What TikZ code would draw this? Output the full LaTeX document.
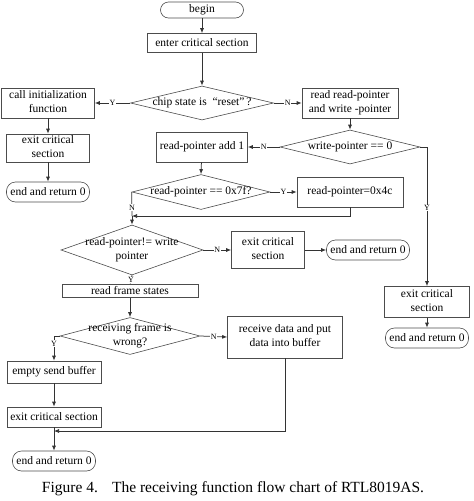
\documentclass[tikz,border=0pt]{standalone}
\usepackage{fontspec}
\setmainfont{Liberation Serif}
\usetikzlibrary{shapes.geometric,arrows.meta}
\newcommand{\twol}[2]{\begin{tabular}{@{}c@{}}#1\\#2\end{tabular}}
\begin{document}
\begin{tikzpicture}[x=1pt,y=-1pt,
  txt/.style={inner sep=0pt, font=\fontsize{11.5}{14}\selectfont},
  box/.style={txt, draw=black!70, line width=0.6pt, minimum width=#1},
  term/.style={txt, draw=black!70, line width=0.6pt, rounded corners=9pt, minimum width=83pt, minimum height=20pt},
  dia/.style={draw=black!70, line width=0.6pt, shape=diamond, inner sep=0pt},
  lab/.style={fill=white, inner sep=0.6pt, font=\fontsize{8}{9}\selectfont},
  flow/.style={draw=black!80, line width=0.75pt, -{Latex[length=5pt,width=4pt]}},
  plain/.style={draw=black!80, line width=0.75pt}]
\useasboundingbox (0,0) rectangle (474,501);

% nodes
\node[term, minimum height=16pt, rounded corners=8pt] (begin) at (202,10) {begin};
\node[box=109pt, minimum height=19pt] (enter) at (202,43) {enter critical section};
\node[dia, minimum width=143pt, minimum height=34pt] (d1) at (202,103) {};
\node[txt] (d1t) at (d1.center) {chip state is \ “reset”\,?};
\node[box=93pt, minimum height=30pt] (init) at (48,103) {\twol{call initialization}{function}};
\node[box=96pt, minimum height=30pt] (rrw) at (350,103) {\twol{read read-pointer}{and write -pointer}};
\node[box=83pt, minimum height=25pt] (exitL) at (48,148) {\twol{exit critical}{section}};
\node[term] (endL) at (48,192) {end and return 0};
\node[dia, minimum width=140pt, minimum height=34pt] (d2) at (350,147) {};
\node[txt] (d2t) at (d2.center) {write-pointer == 0};
\node[box=91pt, minimum height=30pt] (add1) at (202,147) {read-pointer add 1};
\node[dia, minimum width=138pt, minimum height=35pt] (d3) at (201,192) {};
\node[txt] (d3t) at (d3.center) {read-pointer == 0x7f?};
\node[box=106pt, minimum height=30pt] (set4c) at (350,192) {read-pointer=0x4c};
\node[dia, minimum width=142pt, minimum height=50pt] (d4) at (132,250) {};
\node[txt] (d4t) at (d4.center) {\twol{read-pointer!= write}{pointer}};
\node[box=73pt, minimum height=37pt] (exitM) at (268,250) {\twol{exit critical}{section}};
\node[term] (endM) at (368,250) {end and return 0};
\node[box=85pt, minimum height=31pt] (exitR) at (427,302) {\twol{exit critical}{section}};
\node[term] (endR) at (427,338) {end and return 0};
\node[box=136pt, minimum height=13pt] (frame) at (130,291) {read frame states};
\node[dia, minimum width=140pt, minimum height=37pt] (d5) at (130,336) {};
\node[txt] (d5t) at (d5.center) {\twol{receiving frame is}{wrong?}};
\node[box=115pt, minimum height=42pt] (recv) at (285,337) {\twol{receive data and put}{data into buffer}};
\node[box=94pt, minimum height=22pt] (empty) at (54,372) {empty send buffer};
\node[box=94pt, minimum height=20pt] (exitB) at (54,417) {exit critical section};
\node[term] (endB) at (54,461) {end and return 0};
\node[txt, font=\fontsize{15.5}{18}\selectfont] (cap) at (233,489) {Figure 4.\hspace{9pt} The receiving function flow chart of RTL8019AS.};

\coordinate (m1) at (132,216);
\coordinate (m2) at (54,431);

% connectors
\draw[flow] (begin) -- (enter);
\draw[flow] (enter) -- (d1.north);
\draw[flow] (d1.west) -- node[lab]{Y} (init.east);
\draw[flow] (d1.east) -- node[lab]{N} (rrw.west);
\draw[flow] (init) -- (exitL);
\draw[flow] (exitL) -- (endL);
\draw[flow] (rrw) -- (d2.north);
\draw[flow] (d2.west) -- node[lab]{N} (add1.east);
\draw[flow] (add1) -- (d3.north);
\draw[flow] (d3.east) -- node[lab]{Y} (set4c.west);
\draw[plain] (d3.west) -- node[lab, pos=0.65]{N} (m1);
\draw[flow] (set4c.south) |- (m1);
\draw[flow] (m1) -- (d4.north);
\draw[flow] (d2.east) -| node[lab, pos=0.72]{Y} (exitR.north);
\draw[flow] (exitR) -- (endR);
\draw[flow] (d4.east) -- node[lab]{N} (exitM.west);
\draw[flow] (exitM) -- (endM);
\draw[flow] (d4.south) -- node[lab, pos=0.55]{Y} (frame.north);
\draw[flow] (frame) -- (d5.north);
\draw[flow] (d5.east) -- node[lab]{N} (recv.west);
\draw[flow] (d5.west) -| node[lab, pos=0.65]{Y} (empty.north);
\draw[flow] (empty) -- (exitB);
\draw[flow] (recv.south) |- (m2);
\draw[flow] (exitB) -- (endB);
\end{tikzpicture}
\end{document}
